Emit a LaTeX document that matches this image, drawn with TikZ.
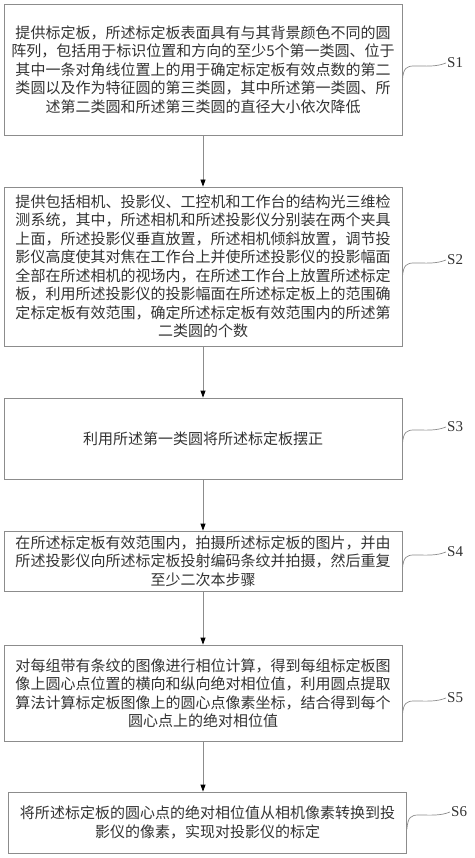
\documentclass[tikz,border=0pt]{standalone}
\usepackage{fontspec}
\setmainfont{Liberation Serif}
\newfontfamily\cjk{Noto Sans CJK SC}
\usetikzlibrary{arrows.meta}
\definecolor{linegray}{gray}{0.55}
\definecolor{textgray}{gray}{0.2}
\tikzset{
stepbox/.style={draw=linegray, line width=0.8pt, text width=384pt, inner xsep=7pt,
  align=center, text=textgray, font=\cjk\fontsize{15pt}{18.5pt}\selectfont},
steplabel/.style={anchor=west, inner sep=1pt, text=textgray, font=\fontsize{15pt}{18pt}\selectfont},
flow/.style={draw=linegray, line width=0.8pt, -{Triangle[width=5pt,length=7pt,color=black]}},
lead/.style={draw=linegray, line width=0.7pt}
}
\begin{document}
\begin{tikzpicture}[x=1pt,y=-1pt]
\useasboundingbox (0,0) rectangle (474,858);
% steps
\node[stepbox, minimum height=131pt] (b1) at (203,69.5) {提供标定板，所述标定板表面具有与其背景颜色不同的圆\\
阵列，包括用于标识位置和方向的至少5个第一类圆、位于\\
其中一条对角线位置上的用于确定标定板有效点数的第二\\
类圆以及作为特征圆的第三类圆，其中所述第一类圆、所\\
述第二类圆和所述第三类圆的直径大小依次降低};
\node[stepbox, minimum height=159pt] (b2) at (203,266.5) {提供包括相机、投影仪、工控机和工作台的结构光三维检\\
测系统，其中，所述相机和所述投影仪分别装在两个夹具\\
上面，所述投影仪垂直放置，所述相机倾斜放置，调节投\\
影仪高度使其对焦在工作台上并使所述投影仪的投影幅面\\
全部在所述相机的视场内，在所述工作台上放置所述标定\\
板，利用所述投影仪的投影幅面在所述标定板上的范围确\\
定标定板有效范围，确定所述标定板有效范围内的所述第\\
二类圆的个数};
\node[stepbox, minimum height=81pt] (b3) at (203,438.5) {利用所述第一类圆将所述标定板摆正};
\node[stepbox, minimum height=60pt] (b4) at (203,561) {在所述标定板有效范围内，拍摄所述标定板的图片，并由\\
所述投影仪向所述标定板投射编码条纹并拍摄，然后重复\\
至少二次本步骤};
\node[stepbox, minimum height=96pt] (b5) at (203,693) {对每组带有条纹的图像进行相位计算，得到每组标定板图\\
像上圆心点位置的横向和纵向绝对相位值，利用圆点提取\\
算法计算标定板图像上的圆心点像素坐标，结合得到每个\\
圆心点上的绝对相位值};
\node[stepbox, minimum height=61pt] (b6) at (207.5,822.5) {将所述标定板的圆心点的绝对相位值从相机像素转换到投\\
影仪的像素，实现对投影仪的标定};
% arrows
\foreach \a/\b in {1/2,2/3,3/4,4/5,5/6}
  \draw[flow] (b\a.south) -- (b\a.south |- b\b.north);
% labels S1..S6
\foreach \n/\x/\y in {1/446/63,2/446/260,3/446/427,4/446/552,5/446/698,6/450/812}
  \node[steplabel] (l\n) at (\x,\y) {S\n};
\foreach \n in {1,...,6}
  \draw[lead] (l\n.west -| b\n.east) ++(0,17) .. controls +(1,-12) and +(-8,0) .. ++(12,-14)
    .. controls +(12,0) and +(-10,4) .. (l\n.west);
\end{tikzpicture}
\end{document}
